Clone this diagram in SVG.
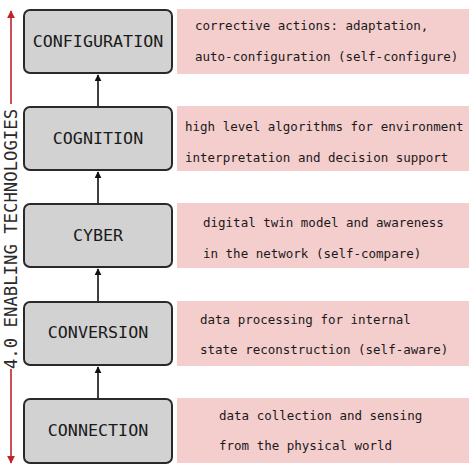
<svg xmlns="http://www.w3.org/2000/svg" width="474" height="474" viewBox="0 0 474 474">
<defs>
<style>
.box{fill:#d2d2d2;stroke:#2a2a2a;stroke-width:2}
.pink{fill:#f4cdcd}
.lbl{font-family:"DejaVu Sans Mono","Liberation Mono",monospace;font-size:16.7px;fill:#1a1a1a;text-anchor:middle}
.desc{font-family:"DejaVu Sans Mono","Liberation Mono",monospace;font-size:12.5px;fill:#1a1a1a}
.side{font-family:"DejaVu Sans Mono","Liberation Mono",monospace;font-size:17.3px;fill:#2a2a2a;text-anchor:middle}
.conn{stroke:#111;stroke-width:1.6;fill:none}
.red{stroke:#c0242a;stroke-width:1.6;fill:none}
</style>
<marker id="ah" viewBox="0 0 10 10" refX="9" refY="5" markerWidth="7" markerHeight="7" orient="auto-start-reverse" markerUnits="userSpaceOnUse"><path d="M0,0 L10,5 L0,10 z" fill="#111"/></marker>
<marker id="rh" viewBox="0 0 10 10" refX="9" refY="5" markerWidth="8" markerHeight="8" orient="auto-start-reverse" markerUnits="userSpaceOnUse"><path d="M0,0 L10,5 L0,10 z" fill="#c0242a"/></marker>
</defs>
<g id="connectors">
<line class="conn" x1="98" y1="398" x2="98" y2="367" marker-end="url(#ah)"/>
<line class="conn" x1="98" y1="301" x2="98" y2="269" marker-end="url(#ah)"/>
<line class="conn" x1="98" y1="203" x2="98" y2="172" marker-end="url(#ah)"/>
<line class="conn" x1="98" y1="106" x2="98" y2="75" marker-end="url(#ah)"/>
<line class="red" x1="11" y1="104" x2="11" y2="11" marker-end="url(#rh)"/>
<line class="red" x1="11" y1="369" x2="11" y2="463" marker-end="url(#rh)"/>
</g>
<g id="side-label"><text class="side" transform="translate(17,239) rotate(-90)">4.0 ENABLING TECHNOLOGIES</text></g>
<g id="configuration">
<rect class="box" x="24" y="10" width="148" height="63" rx="6"/>
<text class="lbl" x="98" y="47">CONFIGURATION</text>
</g>
<g id="configuration-desc">
<rect class="pink" x="177" y="9" width="292" height="65"/>
<text class="desc" x="195" y="30">corrective actions: adaptation,</text>
<text class="desc" x="195" y="61">auto-configuration (self-configure)</text>
</g>
<g id="cognition">
<rect class="box" x="24" y="107" width="148" height="63" rx="6"/>
<text class="lbl" x="98" y="144">COGNITION</text>
</g>
<g id="cognition-desc">
<rect class="pink" x="177" y="106" width="292" height="65"/>
<text class="desc" x="185" y="131">high level algorithms for environment</text>
<text class="desc" x="185" y="162">interpretation and decision support</text>
</g>
<g id="cyber">
<rect class="box" x="24" y="204" width="148" height="63" rx="6"/>
<text class="lbl" x="98" y="241">CYBER</text>
</g>
<g id="cyber-desc">
<rect class="pink" x="177" y="203" width="292" height="65"/>
<text class="desc" x="203" y="227">digital twin model and awareness</text>
<text class="desc" x="203" y="258">in the network (self-compare)</text>
</g>
<g id="conversion">
<rect class="box" x="24" y="302" width="148" height="63" rx="6"/>
<text class="lbl" x="98" y="338">CONVERSION</text>
</g>
<g id="conversion-desc">
<rect class="pink" x="177" y="301" width="292" height="65"/>
<text class="desc" x="200" y="324">data processing for internal</text>
<text class="desc" x="200" y="354">state reconstruction (self-aware)</text>
</g>
<g id="connection">
<rect class="box" x="24" y="399" width="148" height="64" rx="6"/>
<text class="lbl" x="98" y="436">CONNECTION</text>
</g>
<g id="connection-desc">
<rect class="pink" x="177" y="398" width="292" height="65"/>
<text class="desc" x="219" y="420">data collection and sensing</text>
<text class="desc" x="219" y="450">from the physical world</text>
</g>
</svg>
